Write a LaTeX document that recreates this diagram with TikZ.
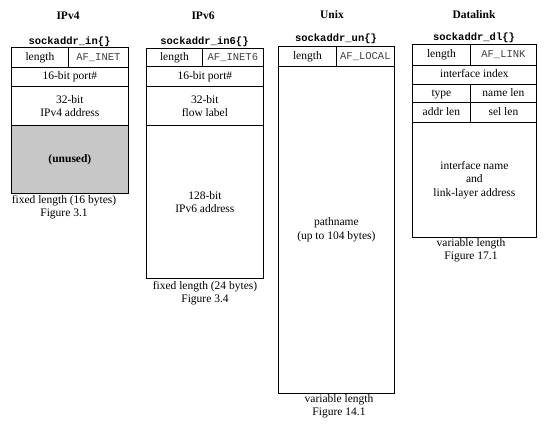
\documentclass[tikz,border=0pt]{standalone}
\usepackage{fontspec}
\setmainfont{Liberation Serif}
\setmonofont{Liberation Mono}
\begin{document}
\begin{tikzpicture}[x=1pt,y=-1pt,
  base/.style={draw, line width=0.8pt, inner sep=0pt, anchor=north west,
    font=\fontsize{11.5}{13.5}\selectfont},
  cell/.style={base, text height=8pt, text depth=2.5pt},
  mcell/.style={base, align=center},
  ttcell/.style={cell, font=\fontsize{10.5}{12}\ttfamily, text=black!75},
  title/.style={font=\fontsize{11.5}{13}\selectfont\bfseries},
  sname/.style={font=\fontsize{10.5}{13}\ttfamily\bfseries},
  caption/.style={font=\fontsize{11.5}{13}\selectfont, align=center}]
\useasboundingbox (0,0) rectangle (544,424);

% ---------------- IPv4 ----------------
\node[title] (t4) at (68,16) {IPv4};
\node[sname] (s4) at (69.5,42) {sockaddr\_in\{\}};
\node[cell, minimum width=57pt, minimum height=20pt] (a4len) at (11,47) {length};
\node[ttcell, minimum width=60pt, minimum height=20pt] (a4fam) at (68,47) {AF\_INET};
\node[cell, minimum width=117pt, minimum height=19pt] (a4port) at (11,67) {16-bit port\#};
\node[mcell, minimum width=117pt, minimum height=39pt] (a4addr) at (11,86) {32-bit\\IPv4 address};
\node[cell, fill=black!22, minimum width=117pt, minimum height=68pt, font=\fontsize{11.5}{13}\selectfont\bfseries] (a4un) at (11,125) {(unused)};
\node[caption] (c4) at (64,207) {fixed length (16 bytes)\\Figure 3.1};

% ---------------- IPv6 ----------------
\node[title] (t6) at (203,16) {IPv6};
\node[sname] (s6) at (204.5,42) {sockaddr\_in6\{\}};
\node[cell, minimum width=56pt, minimum height=18pt] (a6len) at (146,48) {length};
\node[ttcell, minimum width=61pt, minimum height=18pt] (a6fam) at (202,48) {AF\_INET6};
\node[cell, minimum width=117pt, minimum height=20pt] (a6port) at (146,66) {16-bit port\#};
\node[mcell, minimum width=117pt, minimum height=39pt] (a6flow) at (146,86) {32-bit\\flow label};
\node[mcell, minimum width=117pt, minimum height=153pt] (a6addr) at (146,125) {128-bit\\IPv6 address};
\node[caption] (c6) at (205,293) {fixed length (24 bytes)\\Figure 3.4};

% ---------------- Unix ----------------
\node[title] (tu) at (332,15) {Unix};
\node[sname] (su) at (336,39) {sockaddr\_un\{\}};
\node[cell, minimum width=58pt, minimum height=20pt] (aulen) at (278,46) {length};
\node[ttcell, minimum width=58pt, minimum height=20pt] (aufam) at (336,46) {AF\_LOCAL};
\node[mcell, minimum width=116pt, minimum height=327pt] (aupath) at (278,66) {pathname\\(up to 104 bytes)};
\node[caption] (cu) at (339,406) {variable length\\Figure 14.1};

% ---------------- Datalink ----------------
\node[title] (td) at (474,15) {Datalink};
\node[sname] (sd) at (474,38) {sockaddr\_dl\{\}};
\node[cell, minimum width=58pt, minimum height=21pt] (adlen) at (412,44) {length};
\node[ttcell, minimum width=66pt, minimum height=21pt] (adfam) at (470,44) {AF\_LINK};
\node[cell, minimum width=124pt, minimum height=19pt] (adidx) at (412,65) {interface index};
\node[cell, minimum width=58pt, minimum height=18pt] (adtype) at (412,84) {type};
\node[cell, minimum width=66pt, minimum height=18pt] (adnlen) at (470,84) {name len};
\node[cell, minimum width=58pt, minimum height=20pt] (adalen) at (412,102) {addr len};
\node[cell, minimum width=66pt, minimum height=20pt] (adslen) at (470,102) {sel len};
\node[mcell, minimum width=124pt, minimum height=115pt] (adname) at (412,122) {interface name\\and\\link-layer address};
\node[caption] (cd) at (471,250) {variable length\\Figure 17.1};
\end{tikzpicture}
\end{document}
